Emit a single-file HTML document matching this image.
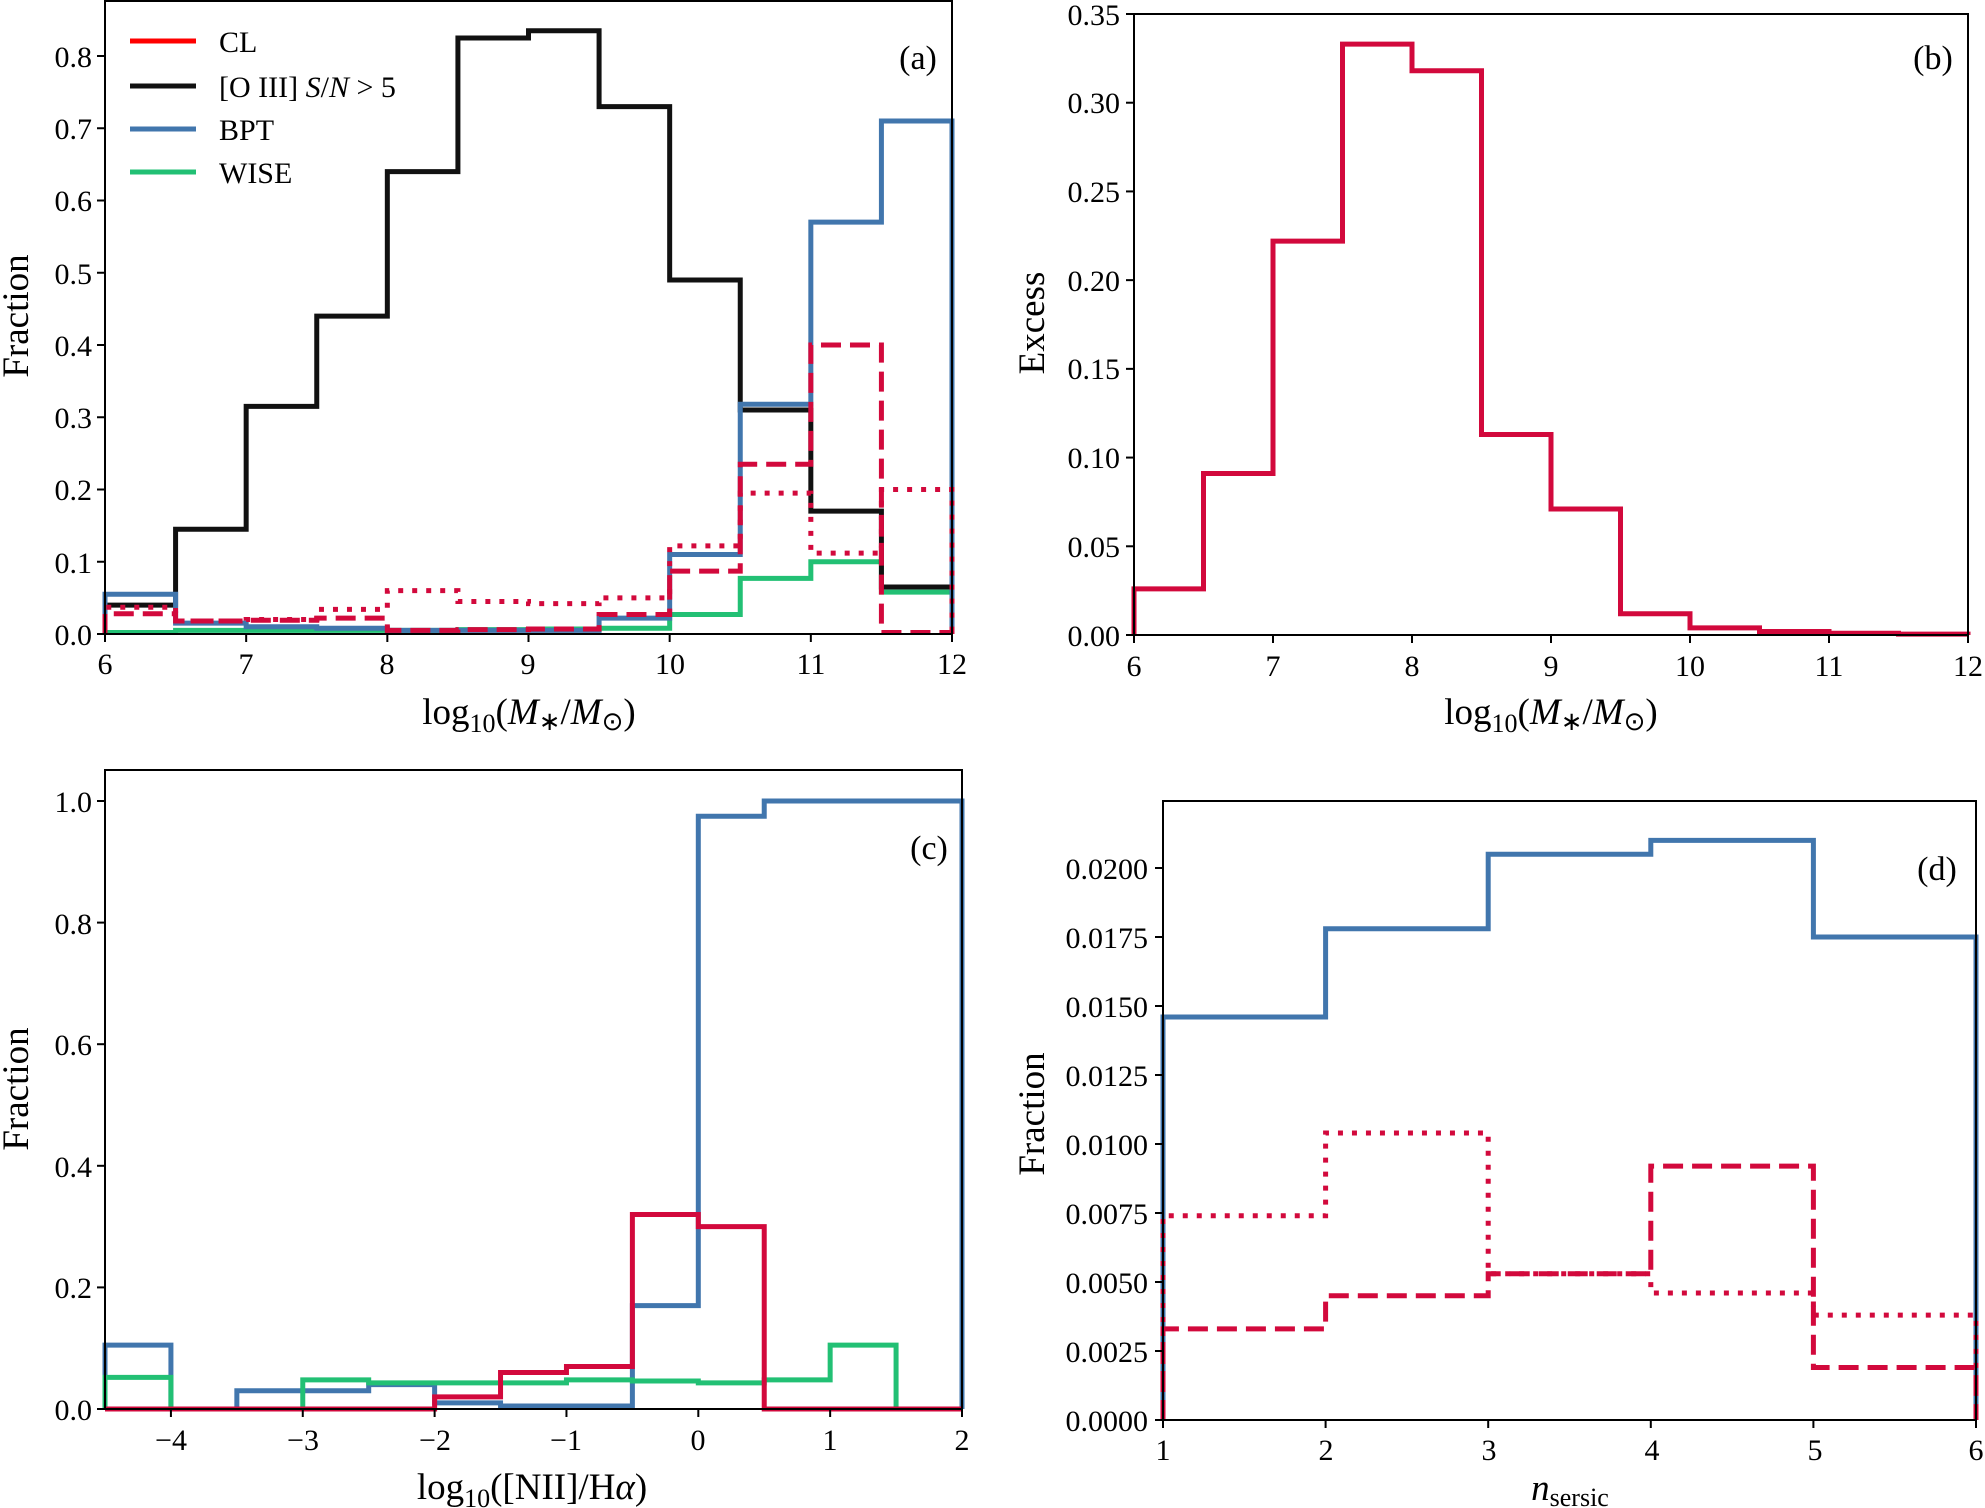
<!DOCTYPE html>
<html><head><meta charset="utf-8"><style>
html,body{margin:0;padding:0;background:#fff;}
svg{display:block;font-family:"Liberation Serif",serif;}
</style></head><body>
<svg id="s" width="1985" height="1508" viewBox="0 0 1985 1508" xmlns="http://www.w3.org/2000/svg">
<g id="plots"></g>
<g font-size="30" fill="#000">
<!-- panel a -->
<g text-anchor="end">
<text x="92" y="645">0.0</text><text x="92" y="573">0.1</text><text x="92" y="500">0.2</text><text x="92" y="428">0.3</text><text x="92" y="356">0.4</text><text x="92" y="284">0.5</text><text x="92" y="211">0.6</text><text x="92" y="139">0.7</text><text x="92" y="67">0.8</text>
</g>
<g text-anchor="middle">
<text x="105" y="674">6</text><text x="246" y="674">7</text><text x="387" y="674">8</text><text x="528" y="674">9</text><text x="670" y="674">10</text><text x="811" y="674">11</text><text x="952" y="674">12</text>
</g>
<text transform="translate(28,316) rotate(-90)" text-anchor="middle" font-size="37">Fraction</text>
<text x="529" y="724" text-anchor="middle" font-size="37">log<tspan font-size="26" dy="8">10</tspan><tspan dy="-8">(</tspan><tspan font-style="italic">M</tspan><tspan font-size="26" dy="6">∗</tspan><tspan dy="-6">/</tspan><tspan font-style="italic">M</tspan><tspan font-size="26" dy="6">⊙</tspan><tspan dy="-6">)</tspan></text>
<text x="918" y="69" text-anchor="middle" font-size="34">(a)</text>
<g font-size="30">
<text x="219" y="52">CL</text>
<text x="219" y="97">[O III] <tspan font-style="italic">S</tspan>/<tspan font-style="italic">N</tspan> &gt; 5</text>
<text x="219" y="140">BPT</text>
<text x="219" y="183">WISE</text>
</g>
<!-- panel b -->
<g text-anchor="end">
<text x="1120" y="646">0.00</text><text x="1120" y="557">0.05</text><text x="1120" y="468">0.10</text><text x="1120" y="379">0.15</text><text x="1120" y="291">0.20</text><text x="1120" y="202">0.25</text><text x="1120" y="113">0.30</text><text x="1120" y="25">0.35</text>
</g>
<g text-anchor="middle">
<text x="1134" y="676">6</text><text x="1273" y="676">7</text><text x="1412" y="676">8</text><text x="1551" y="676">9</text><text x="1690" y="676">10</text><text x="1829" y="676">11</text><text x="1968" y="676">12</text>
</g>
<text transform="translate(1044,323) rotate(-90)" text-anchor="middle" font-size="37">Excess</text>
<text x="1551" y="724" text-anchor="middle" font-size="37">log<tspan font-size="26" dy="8">10</tspan><tspan dy="-8">(</tspan><tspan font-style="italic">M</tspan><tspan font-size="26" dy="6">∗</tspan><tspan dy="-6">/</tspan><tspan font-style="italic">M</tspan><tspan font-size="26" dy="6">⊙</tspan><tspan dy="-6">)</tspan></text>
<text x="1933" y="69" text-anchor="middle" font-size="34">(b)</text>
<!-- panel c -->
<g text-anchor="end">
<text x="92" y="1420">0.0</text><text x="92" y="1298">0.2</text><text x="92" y="1177">0.4</text><text x="92" y="1055">0.6</text><text x="92" y="934">0.8</text><text x="92" y="812">1.0</text>
</g>
<g text-anchor="middle">
<text x="171" y="1450">−4</text><text x="303" y="1450">−3</text><text x="435" y="1450">−2</text><text x="566" y="1450">−1</text><text x="698" y="1450">0</text><text x="830" y="1450">1</text><text x="962" y="1450">2</text>
</g>
<text transform="translate(28,1089) rotate(-90)" text-anchor="middle" font-size="37">Fraction</text>
<text x="532" y="1499" text-anchor="middle" font-size="37">log<tspan font-size="26" dy="8">10</tspan><tspan dy="-8">([NII]/H</tspan><tspan font-style="italic">α</tspan>)</text>
<text x="929" y="859" text-anchor="middle" font-size="34">(c)</text>
<!-- panel d -->
<g text-anchor="end">
<text x="1148" y="1431">0.0000</text><text x="1148" y="1362">0.0025</text><text x="1148" y="1293">0.0050</text><text x="1148" y="1224">0.0075</text><text x="1148" y="1155">0.0100</text><text x="1148" y="1086">0.0125</text><text x="1148" y="1017">0.0150</text><text x="1148" y="948">0.0175</text><text x="1148" y="879">0.0200</text>
</g>
<g text-anchor="middle">
<text x="1163" y="1460">1</text><text x="1326" y="1460">2</text><text x="1489" y="1460">3</text><text x="1652" y="1460">4</text><text x="1815" y="1460">5</text><text x="1976" y="1460">6</text>
</g>
<text transform="translate(1044,1114) rotate(-90)" text-anchor="middle" font-size="37">Fraction</text>
<text x="1570" y="1500" text-anchor="middle" font-size="37"><tspan font-style="italic">n</tspan><tspan font-size="26" dy="6">sersic</tspan></text>
<text x="1937" y="880" text-anchor="middle" font-size="34">(d)</text>
</g>
</svg>
<script>
var NS="http://www.w3.org/2000/svg",G=document.getElementById("plots");
function el(t,a){var e=document.createElementNS(NS,t);for(var k in a)e.setAttribute(k,a[k]);G.appendChild(e);return e;}
var RED="#d2093c",BLUE="#4176ad",GREEN="#22c074",BLK="#111";
function panel(p){
  var X=function(v){return p.x0+(v-p.v0)/(p.v1-p.v0)*(p.x1-p.x0);};
  var Y=function(v){return p.y0-(v-p.w0)/(p.w1-p.w0)*(p.y0-p.y1);};
  p.series.forEach(function(s){
    var d="M"+X(p.b0)+","+Y(0);
    for(var i=0;i<s.v.length;i++){var a=p.b0+i*p.bw,b=a+p.bw;d+="L"+X(a)+","+Y(s.v[i])+"L"+X(b)+","+Y(s.v[i]);}
    d+="L"+X(p.b0+s.v.length*p.bw)+","+Y(0);
    var at={d:d,fill:"none",stroke:s.c,"stroke-width":5,"stroke-linejoin":"miter"};
    if(s.dash)at["stroke-dasharray"]=s.dash;
    el("path",at);
  });
  el("rect",{x:p.x0,y:p.top,width:p.x1-p.x0,height:p.y0-p.top,fill:"none",stroke:"#000","stroke-width":2});
  p.xt.forEach(function(v){var x=X(v);el("line",{x1:x,x2:x,y1:p.y0,y2:p.y0+8,stroke:"#000","stroke-width":2});});
  p.yt.forEach(function(v){var y=Y(v);el("line",{x1:p.x0-8,x2:p.x0,y1:y,y2:y,stroke:"#000","stroke-width":2});});
}
panel({x0:105,x1:952,v0:6,v1:12,y0:634,y1:56,w0:0,w1:0.8,top:1,b0:6,bw:0.5,
 xt:[6,7,8,9,10,11,12],yt:[0,.1,.2,.3,.4,.5,.6,.7,.8],
 series:[
 {c:GREEN,v:[0.002,0.005,0.005,0.005,0.005,0.006,0.007,0.008,0.027,0.077,0.1,0.058]},
 {c:BLK,v:[0.04,0.145,0.315,0.44,0.64,0.825,0.835,0.73,0.49,0.31,0.17,0.065]},
 {c:BLUE,v:[0.055,0.015,0.01,0.008,0.005,0.005,0.005,0.022,0.11,0.318,0.57,0.71]},
 {c:RED,dash:"5,9",v:[0.037,0.018,0.02,0.034,0.06,0.045,0.042,0.05,0.122,0.195,0.112,0.2]},
 {c:RED,dash:"20,9",v:[0.028,0.018,0.019,0.022,0.005,0.006,0.007,0.027,0.087,0.235,0.40,0.002]}
 ]});
[[41,"#ff0000"],[86,BLK],[129,BLUE],[172,GREEN]].forEach(function(l){el("line",{x1:130,x2:196,y1:l[0],y2:l[0],stroke:l[1],"stroke-width":5});});
panel({x0:1134,x1:1968,v0:6,v1:12,y0:635,y1:14,w0:0,w1:0.35,top:14,b0:6,bw:0.5,
 xt:[6,7,8,9,10,11,12],yt:[0,.05,.1,.15,.2,.25,.3,.35],
 series:[{c:RED,v:[0.026,0.091,0.222,0.333,0.318,0.113,0.071,0.012,0.004,0.002,0.001,0.0005]}]});
panel({x0:105,x1:962,v0:-4.5,v1:2,y0:1409,y1:801,w0:0,w1:1,top:770,b0:-4.5,bw:0.5,
 xt:[-4,-3,-2,-1,0,1,2],yt:[0,.2,.4,.6,.8,1],
 series:[
 {c:BLUE,v:[0.105,0,0.03,0.03,0.04,0.01,0.005,0.005,0.17,0.975,1,1,1]},
 {c:GREEN,v:[0.052,0,0,0.048,0.043,0.043,0.043,0.048,0.046,0.043,0.048,0.105,0]},
 {c:RED,v:[0,0,0,0,0,0.02,0.06,0.07,0.32,0.30,0,0,0]}
 ]});
panel({x0:1163,x1:1976,v0:1,v1:6,y0:1420,y1:868,w0:0,w1:0.02,top:801,b0:1,bw:1,
 xt:[1,2,3,4,5,6],yt:[0,.0025,.005,.0075,.01,.0125,.015,.0175,.02],
 series:[
 {c:BLUE,v:[0.0146,0.0178,0.0205,0.0210,0.0175]},
 {c:RED,dash:"5,9",v:[0.0074,0.0104,0.0053,0.0046,0.0038]},
 {c:RED,dash:"20,9",v:[0.0033,0.0045,0.0053,0.0092,0.0019]}
 ]});
</script>
</body></html>
